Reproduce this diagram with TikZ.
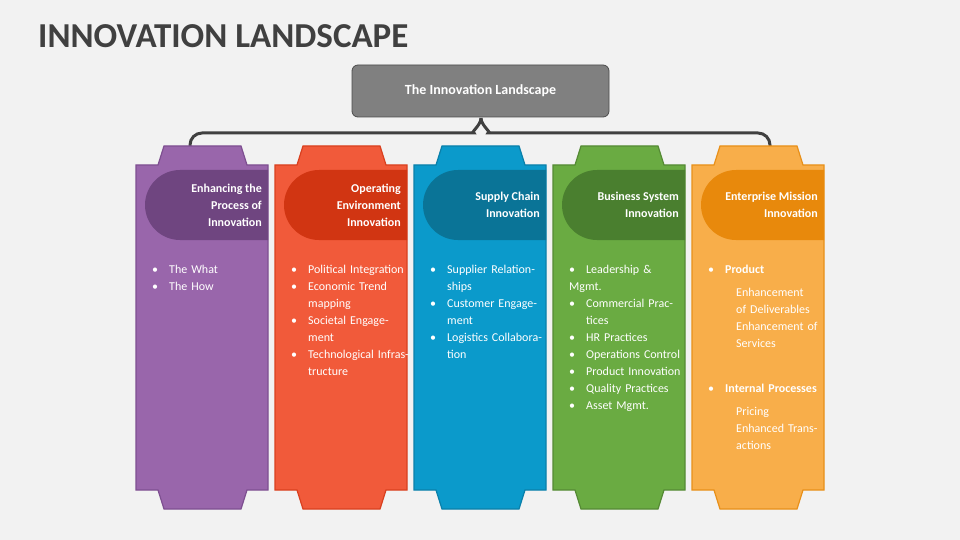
\documentclass[tikz,border=0pt]{standalone}
\usepackage{fontspec}
\setmainfont{Carlito}
\definecolor{pA}{HTML}{9966AB}\definecolor{pB}{HTML}{7E4F91}\definecolor{pC}{HTML}{6F4580}
\definecolor{rA}{HTML}{F15A3A}\definecolor{rB}{HTML}{D9401F}\definecolor{rC}{HTML}{D13512}
\definecolor{bA}{HTML}{0B9ACB}\definecolor{bB}{HTML}{0A80AA}\definecolor{bC}{HTML}{0A7497}
\definecolor{gA}{HTML}{6AAB42}\definecolor{gB}{HTML}{558A35}\definecolor{gC}{HTML}{4A7F2F}
\definecolor{oA}{HTML}{F8AE4A}\definecolor{oB}{HTML}{E8901A}\definecolor{oC}{HTML}{E8890C}
\begin{document}
\begin{tikzpicture}[x=1pt,y=-1pt,
  hd/.style={text=white,font=\bfseries\fontsize{12}{17}\selectfont,align=right,anchor=east,inner sep=0pt},
  bl/.style={text=white,font=\fontsize{12}{17}\selectfont,align=left,anchor=north west,text width=118pt,inner sep=0pt}]
\useasboundingbox[fill=white!95!black] (0,0) rectangle (960,540);
\node[anchor=west,text=black!75,font=\bfseries\fontsize{35}{35}\selectfont,inner sep=0pt] (title) at (38,36) {INNOVATION LANDSCAPE};
\draw[line width=3pt,black!75,rounded corners=12pt] (190,146) -- (190,133) -- (462,133) to[out=0,in=-90,looseness=0.8] (481,118);
\draw[line width=3pt,black!75,rounded corners=12pt] (770,146) -- (770,133) -- (500,133) to[out=180,in=-90,looseness=0.8] (481,118);
\node[draw=black!70,fill=black!50,rounded corners=6pt,minimum width=257pt,minimum height=52pt,text=white,font=\bfseries\fontsize{14}{16}\selectfont,line width=0.8pt] (top) at (480.5,91) {The Innovation Landscape};
\newcommand\mycol[5]{%
 \begin{scope}[xshift=#1]
 \draw[fill=#2A,draw=#2B,line width=1.2pt] (136,165) -- (158,165) -- (164,146) -- (241,146) -- (247,165) -- (268,165) -- (268,490) -- (247,490) -- (241,509) -- (164,509) -- (158,490) -- (136,490) -- cycle;
 \fill[#2C] (268,170) -- (180,170) arc (270:90:35) -- (268,240) -- cycle;
 \node[hd] (h#3) at (262,205) {#4};
 \node[bl] (b#3) at (152,265) {#5};
 \end{scope}}
\def\bu{\makebox[17pt][l]{\textbullet}}
\def\it#1{\hangindent=17pt\hangafter=1\bu#1\par}
\mycol{0pt}{p}{a}{Enhancing the\\Process of\\Innovation}{\it{The What}\it{The How}}
\mycol{139pt}{r}{b}{Operating\\Environment\\Innovation}{\it{Political Integration}\it{Economic Trend mapping}\it{Societal Engagement}\it{Technological Infrastructure}}
\mycol{278pt}{b}{c}{Supply Chain\\Innovation}{\it{Supplier Relationships}\it{Customer Engagement}\it{Logistics Collaboration}}
\mycol{417pt}{g}{d}{Business System\\Innovation}{\it{Leadership \&\\Mgmt.}\it{Commercial Practices}\it{HR Practices}\it{Operations Control}\it{Product Innovation}\it{Quality Practices}\it{Asset Mgmt.}}
\mycol{556pt}{o}{e}{Enterprise Mission\\Innovation}{\it{\textbf{Product}}\vspace{6pt}\leftskip=28pt Enhancement of~Deliverables\par Enhancement of Services\par\vspace{28pt}\leftskip=0pt\it{\textbf{Internal Processes}}\vspace{6pt}\leftskip=28pt Pricing\par Enhanced Transactions\par}
\end{tikzpicture}
\end{document}
